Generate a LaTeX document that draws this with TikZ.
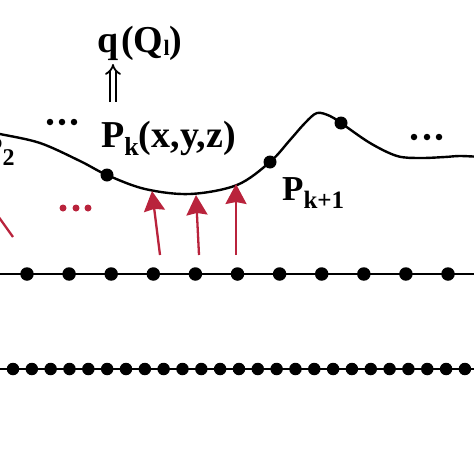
\documentclass[tikz,border=0pt]{standalone}
\usepackage{fontspec}
\setmainfont{Liberation Serif}
\usetikzlibrary{arrows.meta}
\definecolor{arrred}{RGB}{185,35,60}
\begin{document}
\begin{tikzpicture}[x=1pt,y=-1pt,
  topdot/.style={circle,fill=black,inner sep=0pt,minimum size=13.5pt},
  botdot/.style={circle,fill=black,inner sep=0pt,minimum size=12.5pt},
  curvedot/.style={circle,fill=black,inner sep=0pt,minimum size=13pt},
  smalldot/.style={circle,fill=black,inner sep=0pt,minimum size=6.5pt},
  reddot/.style={circle,fill=arrred,inner sep=0pt,minimum size=7pt},
  redarrow/.style={draw=arrred,line width=2.3pt,-{Stealth[length=20pt,width=21pt,inset=2pt]}},
  axisline/.style={line width=2pt},
  lbl/.style={font=\bfseries\fontsize{38}{40}\selectfont,inner sep=0pt,anchor=base west},
]
\useasboundingbox (0,0) rectangle (474,474);
\clip (0,0) rectangle (474,474);

% lattice lines
\coordinate (tl) at (-5,274); \coordinate (tr) at (480,274);
\coordinate (bl) at (-5,369); \coordinate (br) at (480,369);
\draw[axisline] (tl) -- (tr);
\draw[axisline] (bl) -- (br);
\foreach \i in {0,...,10} \node[topdot] (t\i) at ({27+42.1*\i},274) {};
\foreach \i in {0,...,24} \node[botdot] (b\i) at ({13+18.83*\i},369) {};

% surface curve
\draw[line width=2.4pt] plot[smooth,tension=0.55] coordinates{
 (-8,132) (0,134) (40,143) (80,161) (107,175) (145,189) (190,194) (237,185)
 (270,162) (290,140) (305,123) (317,113) (330,116) (341,123) (370,143)
 (397,156) (420,158) (445,157) (460,156) (482,157)};
\node[curvedot] (pk) at (107,175) {};
\node[curvedot] (pk1) at (270,162) {};
\node[curvedot] (pk2) at (341,123) {};

% labels
\node[lbl] (lpk) at (101,147) {P\raisebox{-8pt}{\fontsize{26}{26}\selectfont k}(x,y,z)};
\node[lbl] (lq) at (97,52) {q\kern3pt(Q\raisebox{-3pt}{\fontsize{22}{22}\selectfont l})};
\node[lbl,font=\bfseries\fontsize{35}{36}\selectfont] (lpk1) at (282,200) {P\raisebox{-8pt}{\fontsize{25}{25}\selectfont k+1}};
\node[lbl,font=\bfseries\fontsize{30}{32}\selectfont] (lp2) at (-16,157) {P\raisebox{-8pt}{\fontsize{24}{24}\selectfont 2}};

% double arrow
\coordinate (ua) at (113,102);
\coordinate (ub) at (113,64);
\draw[double,double distance=3.5pt,line width=1.8pt,-{Implies[length=9pt,width=14pt]}] (ua) -- (ub);

% ellipses
\foreach \x in {50,62,74} \node[smalldot] at (\x,122) {};
\foreach \x in {414,427,439} \node[smalldot] at (\x,137) {};
\foreach \x in {63,76,88} \node[reddot] at (\x,208) {};

% red arrows
\coordinate (s1) at (160,255); \coordinate (e1) at (152,191);
\coordinate (s2) at (199,255); \coordinate (e2) at (196,195);
\coordinate (s3) at (236,255); \coordinate (e3) at (236,184);
\coordinate (s0) at (13,237);  \coordinate (e0) at (-22,188);
\draw[redarrow] (s1) -- (e1);
\draw[redarrow] (s2) -- (e2);
\draw[redarrow] (s3) -- (e3);
\draw[redarrow] (s0) -- (e0);
\end{tikzpicture}
\end{document}
